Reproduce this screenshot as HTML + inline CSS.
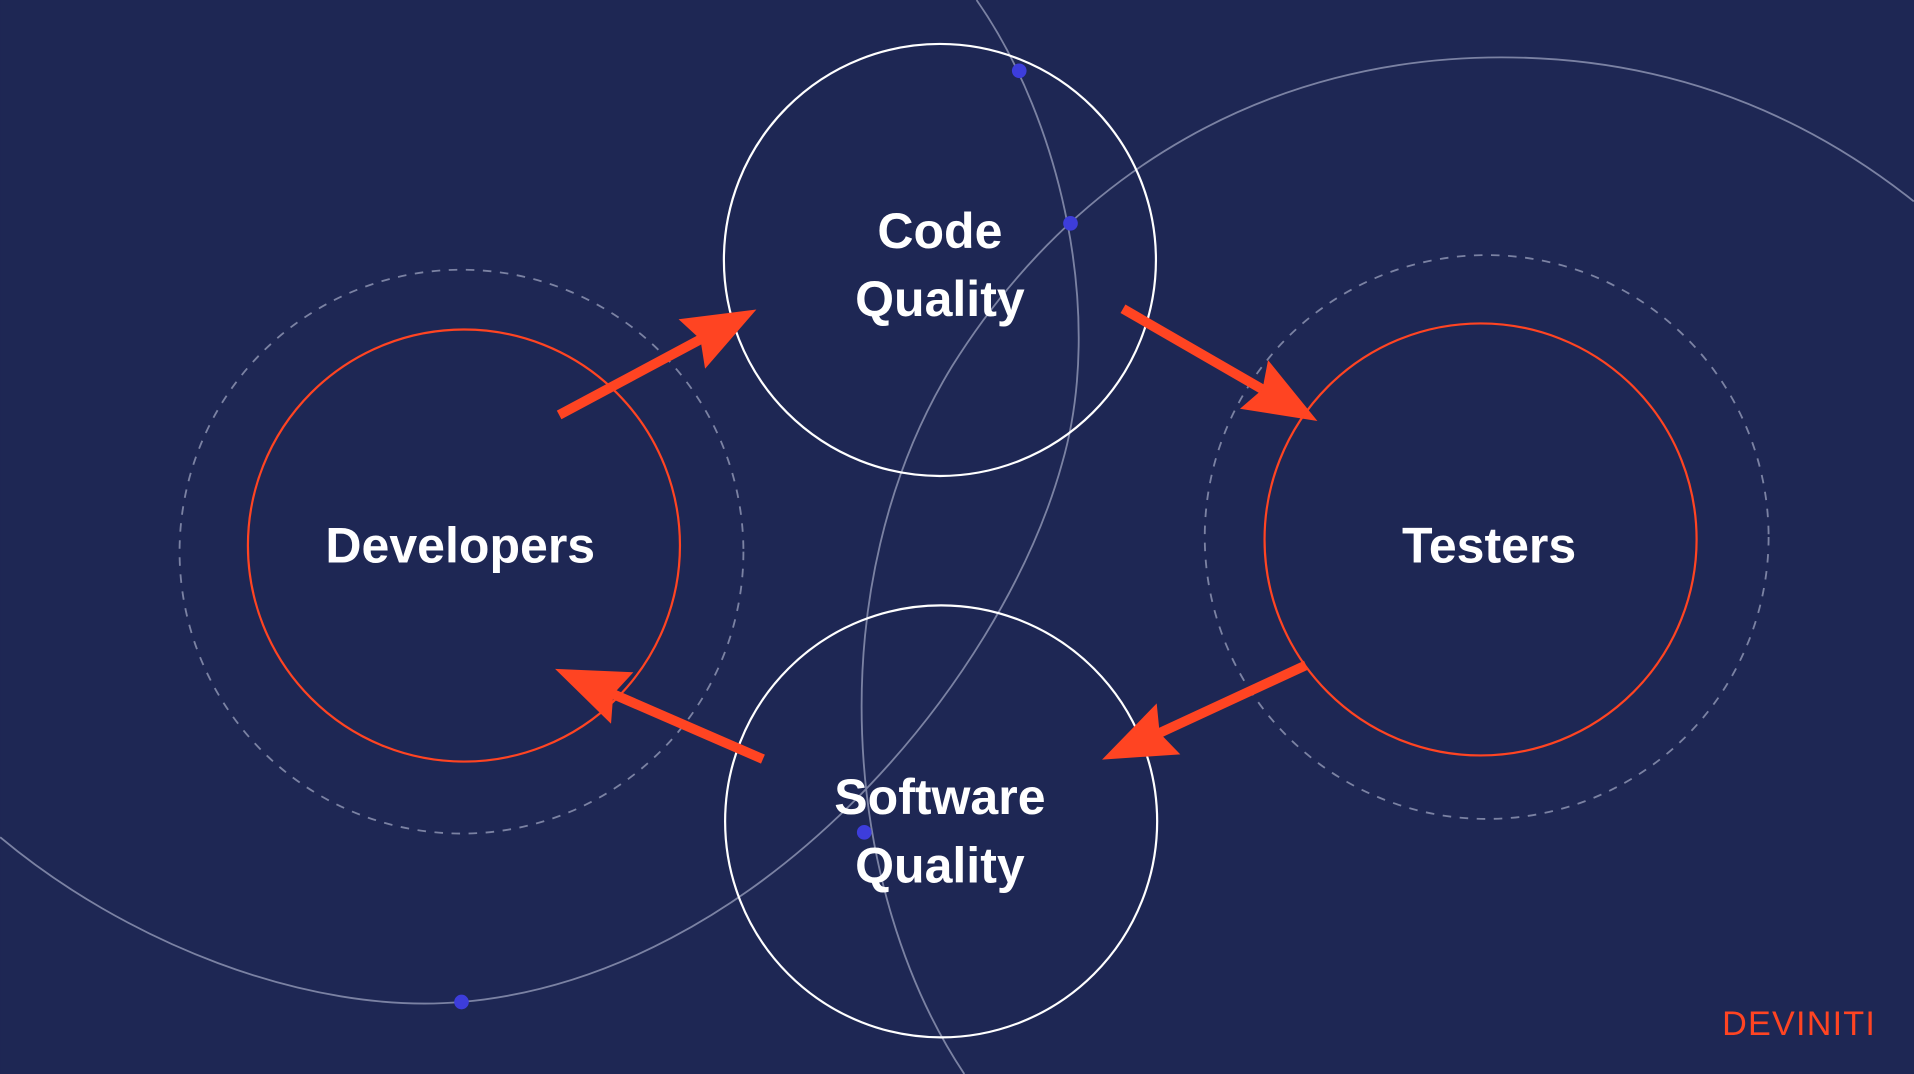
<!DOCTYPE html>
<html><head><meta charset="utf-8"><style>
html,body{margin:0;padding:0;background:#1e2754;}
svg{display:block;}
</style></head><body>
<svg width="1914" height="1074" viewBox="0 0 1568 880" xmlns="http://www.w3.org/2000/svg">
<defs>
<marker id="ah" markerUnits="userSpaceOnUse" markerWidth="60" markerHeight="46" viewBox="0 0 60 46" refX="40" refY="23" orient="auto">
<path d="M0,0 L60,23 L0,46 L8,23 z" fill="#ff4422"/>
</marker>
</defs>
<rect width="1568" height="880" fill="#1e2754"/>
<g fill="none" stroke="#7b82a3" stroke-width="1.5">
<path d="M800,0 C870,100 905,260 870,380 C820,560 620,800 378,821 C250,832 100,770 0,686"/>
<path d="M790,880 C690,730 670,480 780,300 C880,140 1040,47 1230,47 C1370,47 1480,95 1568,165"/>
</g>
<g fill="none" stroke="#7b82a3" stroke-width="1.5" stroke-dasharray="7 7">
<circle cx="378" cy="452" r="231"/>
<circle cx="1218" cy="440" r="231"/>
</g>
<g fill="none" stroke-width="1.8">
<circle cx="770" cy="213" r="177" stroke="#ffffff"/>
<circle cx="771" cy="673" r="177" stroke="#ffffff"/>
<circle cx="380" cy="447" r="177" stroke="#ff4422"/>
<circle cx="1213" cy="442" r="177" stroke="#ff4422"/>
</g>
<g fill="#3d3ddb">
<circle cx="835" cy="58" r="6"/>
<circle cx="877" cy="183" r="6"/>
<circle cx="708" cy="682" r="6"/>
<circle cx="378" cy="821" r="6"/>
</g>
<g stroke="#ff4422" stroke-width="8" marker-end="url(#ah)">
<line x1="458" y1="340" x2="602" y2="263"/>
<line x1="920" y1="253" x2="1062" y2="335"/>
<line x1="1070" y1="545" x2="921" y2="614"/>
<line x1="625" y1="622" x2="473" y2="556"/>
</g>
<g fill="#ffffff" font-family="Liberation Sans, sans-serif" font-weight="bold" font-size="41" text-anchor="middle">
<text x="770" y="203">Code</text>
<text x="770" y="259">Quality</text>
<text x="377" y="461">Developers</text>
<text x="1220" y="461">Testers</text>
<text x="770" y="667">Software</text>
<text x="770" y="723">Quality</text>
</g>
<text x="1474" y="848" fill="#ff4422" font-family="Liberation Sans, sans-serif" font-size="28" text-anchor="middle" letter-spacing="1">DEVINITI</text>
</svg>
</body></html>
